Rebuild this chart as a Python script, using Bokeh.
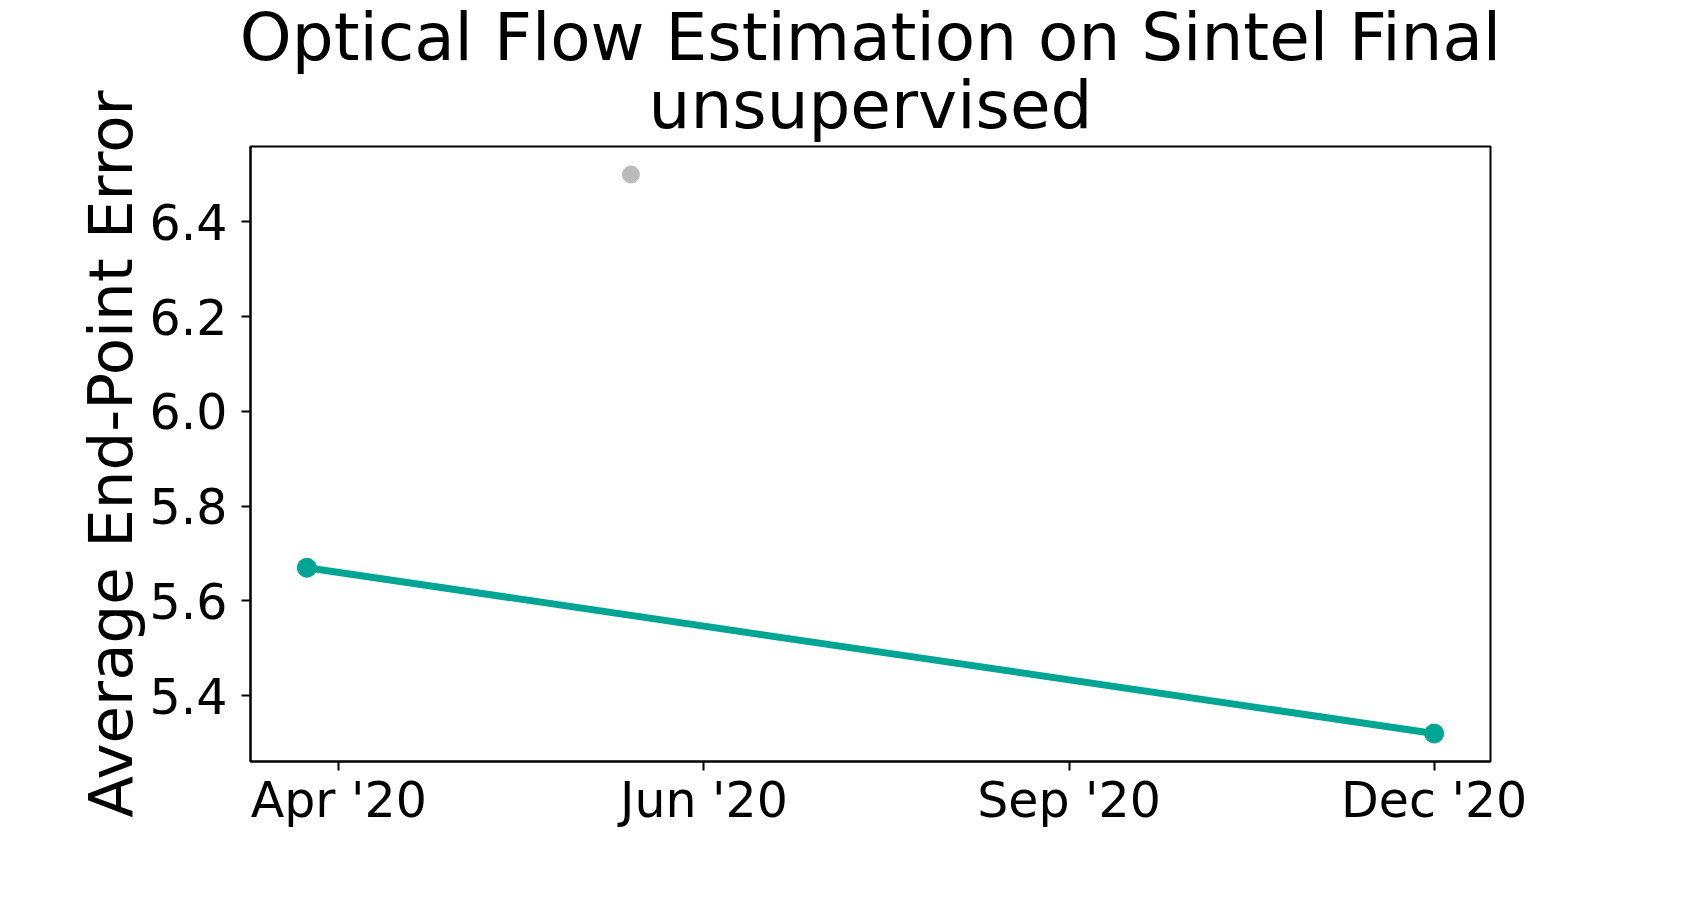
import pandas as pd
from bokeh.plotting import figure
from bokeh.models import Range1d, FixedTicker, ColumnDataSource, PrintfTickFormatter, Title
from bokeh.embed import file_html
from bokeh.resources import INLINE

# ---- data ----
title_lines = ["Optical Flow Estimation on Sintel Final", "unsupervised"]
y_label = "Average End-Point Error"

sota_dates = ["2020-03-29", "2020-12-01"]
sota_epe = [5.67, 5.32]

other_dates = ["2020-06-08"]
other_epe = [6.50]

x_tick_dates = ["2020-04-05", "2020-06-24", "2020-09-12", "2020-12-01"]
x_tick_labels = ["Apr '20", "Jun '20", "Sep '20", "Dec '20"]
y_ticks = [5.4, 5.6, 5.8, 6.0, 6.2, 6.4]

TEAL = "#00a693"
GREY = "#bbbbbb"
FONT = "DejaVu Sans"

# ---- layout constants (pixels) ----
W = 1690
LEFT, FW, FH = 250, 1240, 615
TOP = 146


def ms(d):
    return pd.Timestamp(d).value / 1e6


all_x = [ms(d) for d in sota_dates + other_dates]
all_y = sota_epe + other_epe
xpad = 0.05 * (max(all_x) - min(all_x))
ypad = 0.05 * (max(all_y) - min(all_y))

p = figure(
    x_axis_type="datetime",
    frame_width=FW, frame_height=FH,
    min_border_left=LEFT, min_border_right=W - LEFT - FW,
    min_border_top=TOP, min_border_bottom=130,
    x_range=Range1d(min(all_x) - xpad, max(all_x) + xpad),
    y_range=Range1d(min(all_y) - ypad, max(all_y) + ypad),
    output_backend="svg", toolbar_location=None,
)
p.title.visible = False
# second title line first (closest to the frame), then the first line above it
for line, stand in ((title_lines[1], 4.2), (title_lines[0], -25.6)):
    p.add_layout(Title(text=line, align="center", standoff=stand,
                       text_font=FONT, text_font_size="66px", text_font_style="normal",
                       text_color="black"), "above")

p.grid.visible = False
p.outline_line_color = "black"
p.outline_line_width = 2

sota = ColumnDataSource(dict(x=pd.to_datetime(sota_dates), y=sota_epe))
other = ColumnDataSource(dict(x=pd.to_datetime(other_dates), y=other_epe))

p.line("x", "y", source=sota, line_color=TEAL, line_width=7)
p.scatter("x", "y", source=sota, size=19, fill_color=TEAL, line_color=TEAL)
p.scatter("x", "y", source=other, size=17, fill_color=GREY, line_color=GREY)

tick_vals = [ms(d) for d in x_tick_dates]
p.xaxis.ticker = FixedTicker(ticks=tick_vals)
p.xaxis.major_label_overrides = {v: l for v, l in zip(tick_vals, x_tick_labels)}
p.yaxis.ticker = FixedTicker(ticks=y_ticks)
p.yaxis.formatter = PrintfTickFormatter(format="%.1f")
p.yaxis.axis_label = y_label

for ax in (p.xaxis[0], p.yaxis[0]):
    ax.axis_line_color = "black"
    ax.axis_line_width = 2
    ax.major_tick_line_color = "black"
    ax.major_tick_line_width = 2
    ax.major_tick_out = 9
    ax.major_tick_in = 0
    ax.minor_tick_line_color = None
    ax.major_label_text_font = FONT
    ax.major_label_text_font_size = "49px"
    ax.major_label_text_color = "black"
    ax.axis_label_text_font = FONT
    ax.axis_label_text_font_size = "61px"
    ax.axis_label_text_font_style = "normal"
    ax.axis_label_text_color = "black"

p.xaxis.major_label_standoff = 1
p.yaxis.major_label_standoff = 14
p.yaxis.axis_label_standoff = 1

open("out.html", "w").write(file_html(p, INLINE))
